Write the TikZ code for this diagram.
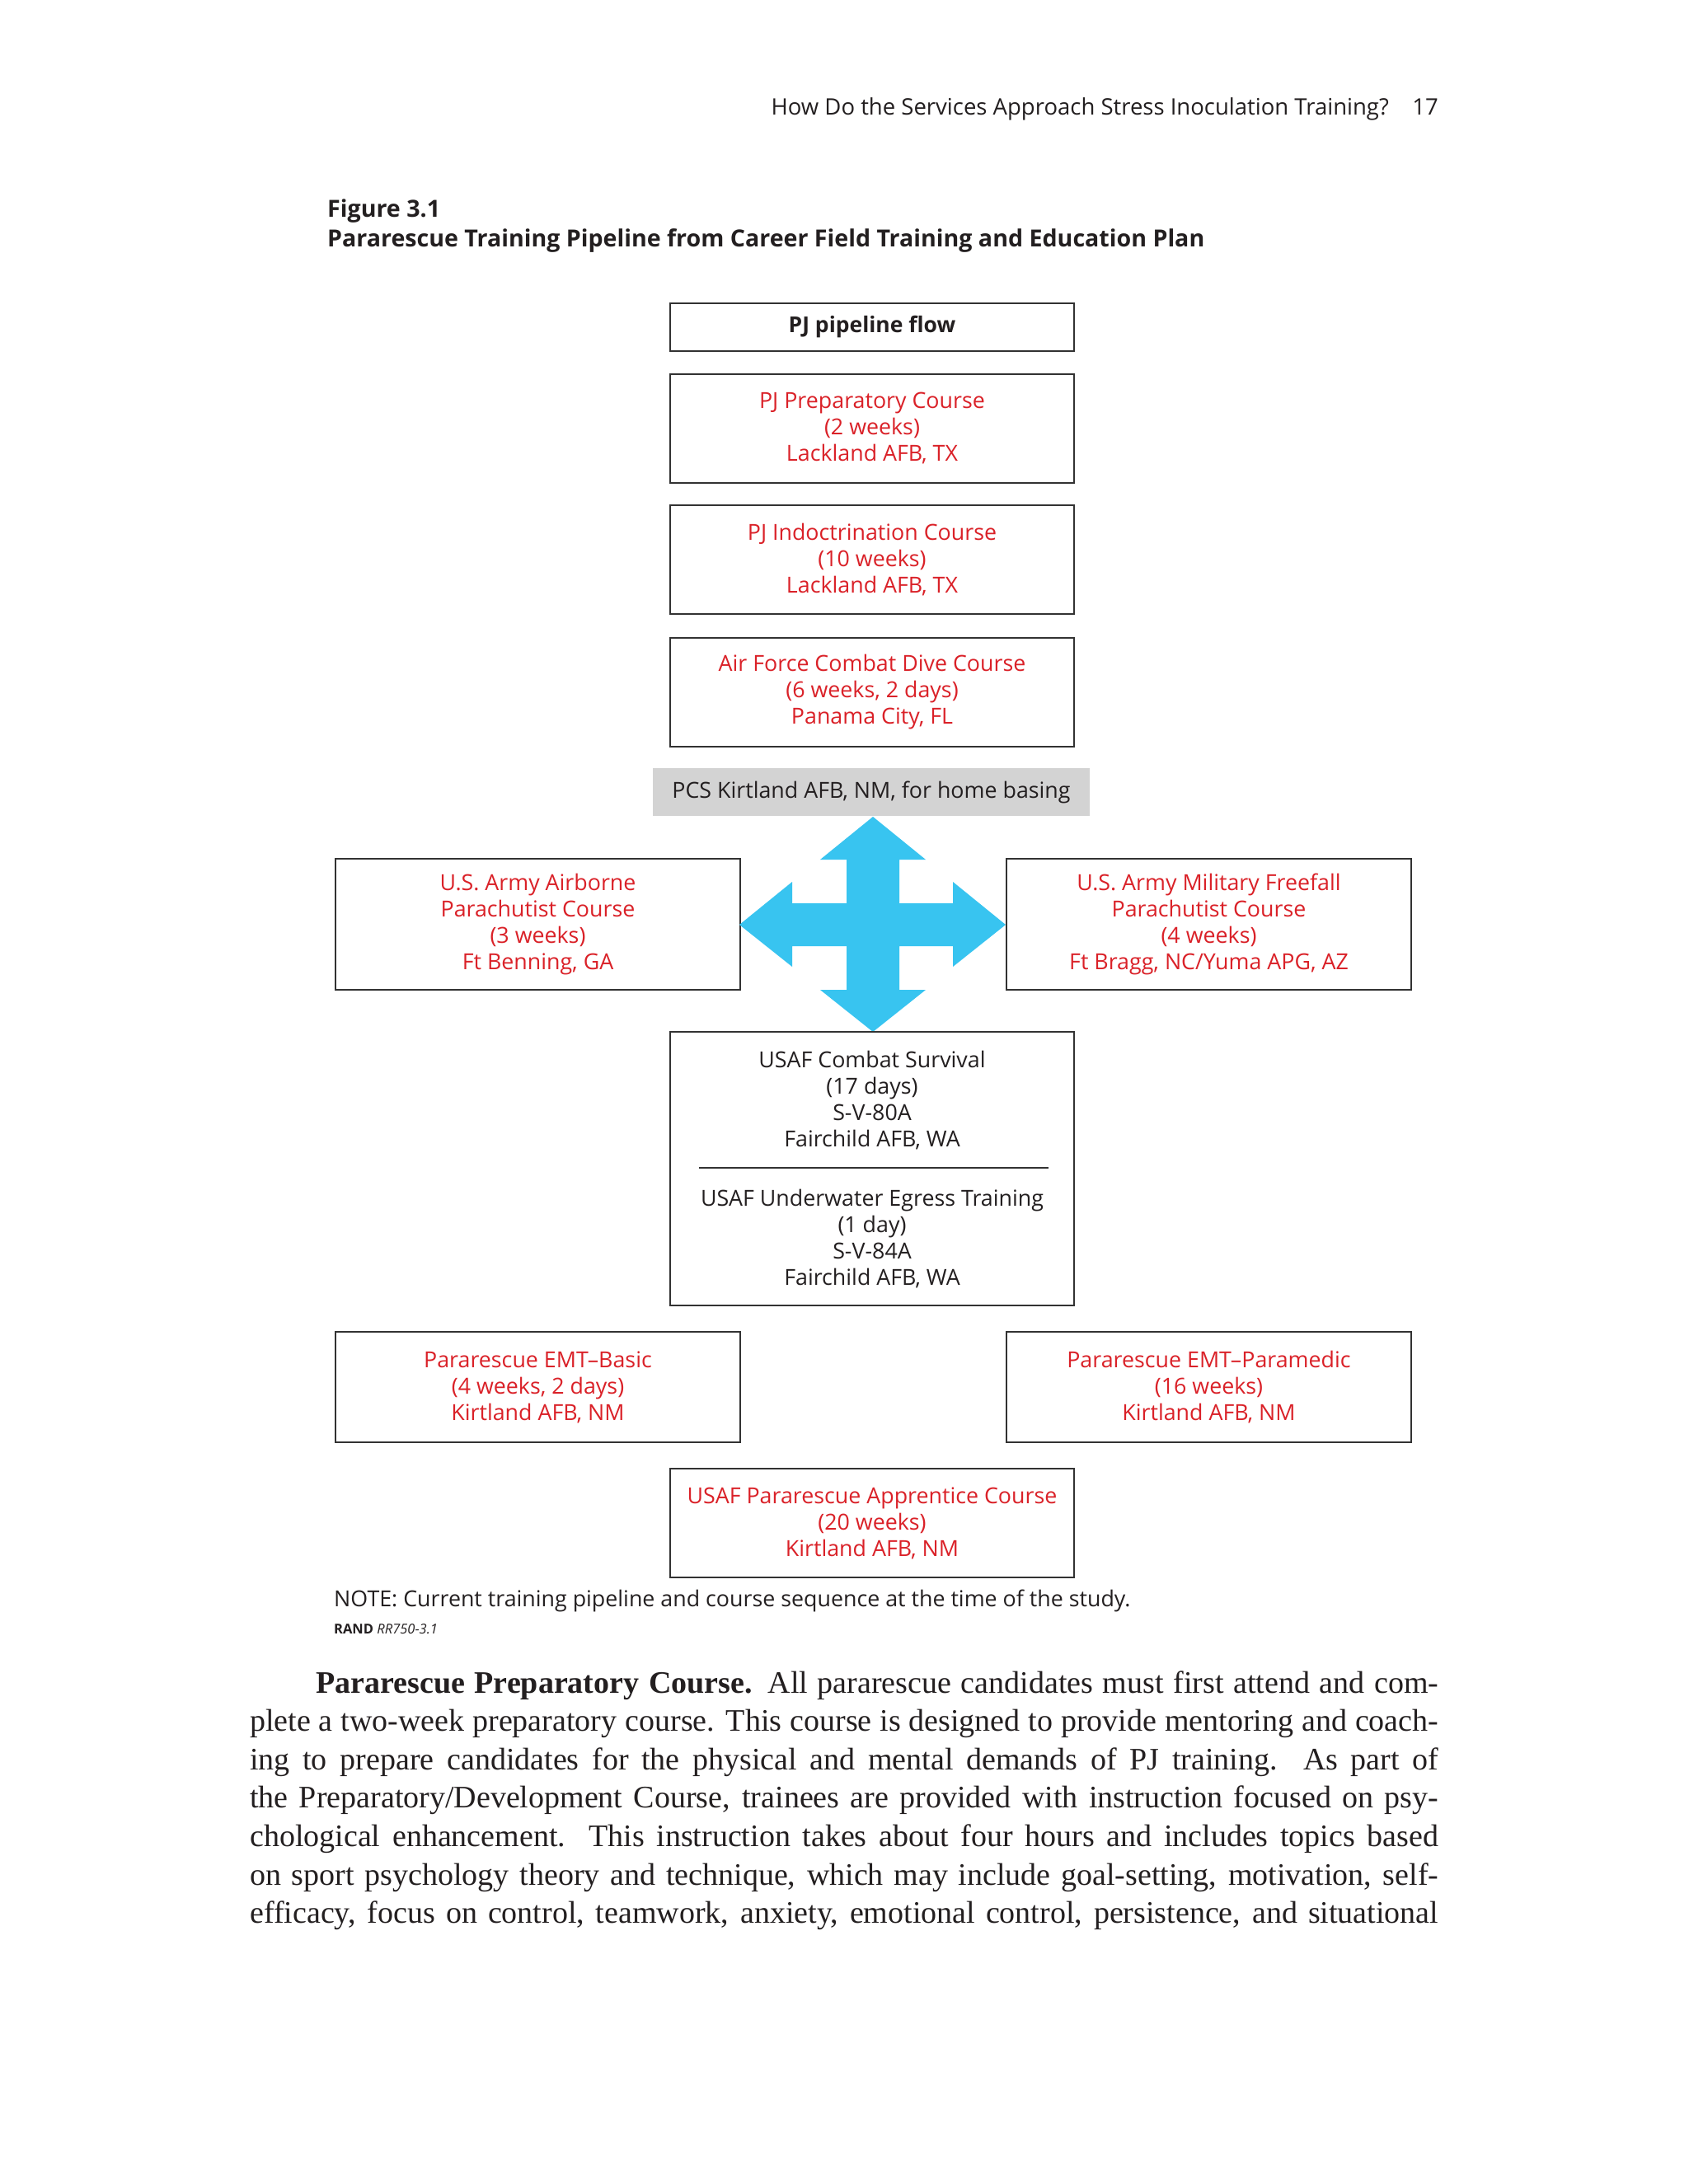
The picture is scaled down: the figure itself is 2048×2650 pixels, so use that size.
\documentclass[tikz,border=0pt]{standalone}
\usepackage{fontspec}
\setmainfont{Liberation Serif}
\newfontfamily\figsans{Open Sans}
\usetikzlibrary{positioning}
\definecolor{pjred}{RGB}{218,33,40}
\definecolor{pjblue}{RGB}{56,196,240}
\definecolor{pjgray}{RGB}{211,211,211}
\definecolor{pjline}{RGB}{50,50,50}
\definecolor{pjtext}{RGB}{35,31,32}
\tikzset{
  course/.style={draw=pjline, line width=2.5pt, minimum width=490pt, minimum height=132pt,
    align=center, inner sep=0pt, text=pjred, font=\figsans\fontsize{26.8}{32}\selectfont},
  plain/.style={text=pjtext, inner sep=0pt, font=\figsans\fontsize{26.8}{32}\selectfont},
  bodyline/.style={text=pjtext, inner sep=0pt, anchor=base west, font=\fontsize{38}{46}\selectfont}
}
\begin{document}
\begin{tikzpicture}[x=1pt,y=-1pt]
\useasboundingbox[fill=white] (0,0) rectangle (2048,2650);

\node[plain, anchor=base east, font=\figsans\fontsize{27.5}{32}\selectfont] (head) at (1685,139) {How Do the Services Approach Stress Inoculation Training?};
\node[plain, anchor=base east, font=\figsans\fontsize{27.5}{32}\selectfont] (page) at (1745,139) {17};
\node[plain, anchor=west, font=\figsans\bfseries\fontsize{28.6}{32}\selectfont] (fignum) at (397,256) {Figure 3.1};
\node[plain, anchor=west, font=\figsans\bfseries\fontsize{28.6}{32}\selectfont] (figtitle) at (397,292) {Pararescue Training Pipeline from Career Field Training and Education Plan};

\node[course, minimum height=58pt, text=pjtext, font=\figsans\bfseries\fontsize{26.5}{32}\selectfont] (flow) at (1058,397) {PJ pipeline flow};
\node[course] (prep) at (1058,520) {PJ Preparatory Course\\(2 weeks)\\Lackland AFB, TX};
\node[course] (indoc) at (1058,679) {PJ Indoctrination Course\\(10 weeks)\\Lackland AFB, TX};
\node[course] (dive) at (1058,840) {Air Force Combat Dive Course\\(6 weeks, 2 days)\\Panama City, FL};
\node[plain, fill=pjgray, minimum width=530pt, minimum height=58pt] (pcs) at (1057,961) {\raisebox{-3pt}{PCS Kirtland AFB, NM, for home basing}};

\node[course, minimum width=491pt, minimum height=159pt] (airborne) at (652.5,1121.5) {U.S. Army Airborne\\Parachutist Course\\(3 weeks)\\Ft Benning, GA};
\node[course, minimum width=491pt, minimum height=159pt] (freefall) at (1466.5,1121.5) {U.S. Army Military Freefall\\Parachutist Course\\(4 weeks)\\Ft Bragg, NC/Yuma APG, AZ};

\fill[pjblue] (1059,991) -- (1123,1043) -- (1091,1043) -- (1091,1096) -- (1156,1096) -- (1156,1070)
  -- (1220,1122) -- (1156,1173) -- (1156,1148) -- (1091,1148) -- (1091,1201) -- (1123,1201)
  -- (1059,1252) -- (995,1201) -- (1027,1201) -- (1027,1148) -- (961,1148) -- (961,1173)
  -- (897,1122) -- (961,1070) -- (961,1096) -- (1027,1096) -- (1027,1043) -- (995,1043) -- cycle;

\node[course, minimum height=332pt] (survival) at (1058,1418) {};
\node[plain, align=center] (combat) at (1058,1335) {USAF Combat Survival\\(17 days)\\S-V-80A\\Fairchild AFB, WA};
\node[plain, align=center] (egress) at (1058,1503) {USAF Underwater Egress Training\\(1 day)\\S-V-84A\\Fairchild AFB, WA};
\coordinate (divl) at (848,1417);
\coordinate (divr) at (1272,1417);
\draw[pjline, line width=2pt] (divl) -- (divr);

\node[course, minimum width=491pt, minimum height=134pt] (emtb) at (652.5,1683) {Pararescue EMT–Basic\\(4 weeks, 2 days)\\Kirtland AFB, NM};
\node[course, minimum width=491pt, minimum height=134pt] (emtp) at (1466.5,1683) {Pararescue EMT–Paramedic\\(16 weeks)\\Kirtland AFB, NM};
\node[course] (appr) at (1058,1848) {USAF Pararescue Apprentice Course\\(20 weeks)\\Kirtland AFB, NM};

\node[plain, anchor=west] (note) at (405,1942) {NOTE: Current training pipeline and course sequence at the time of the study.};
\node[plain, anchor=west, font=\figsans\fontsize{16.5}{20}\selectfont] (rand) at (405,1977) {\textbf{RAND} \textit{RR750-3.1}};

\node[bodyline] (line1) at (383,2054) {\makebox[1362pt][s]{\textbf{Pararescue Preparatory Course.} All pararescue candidates must first attend and com-}};
\node[bodyline] (line2) at (303,2100.6) {\makebox[1442pt][s]{plete a two-week preparatory course. This course is designed to provide mentoring and coach-}};
\node[bodyline] (line3) at (303,2147.2) {\makebox[1442pt][s]{ing to prepare candidates for the physical and mental demands of PJ training. As part of}};
\node[bodyline] (line4) at (303,2193.8) {\makebox[1442pt][s]{the Preparatory/Development Course, trainees are provided with instruction focused on psy-}};
\node[bodyline] (line5) at (303,2240.4) {\makebox[1442pt][s]{chological enhancement. This instruction takes about four hours and includes topics based}};
\node[bodyline] (line6) at (303,2287) {\makebox[1442pt][s]{on sport psychology theory and technique, which may include goal-setting, motivation, self-}};
\node[bodyline] (line7) at (303,2333.6) {\makebox[1442pt][s]{efficacy, focus on control, teamwork, anxiety, emotional control, persistence, and situational}};
\end{tikzpicture}
\end{document}
